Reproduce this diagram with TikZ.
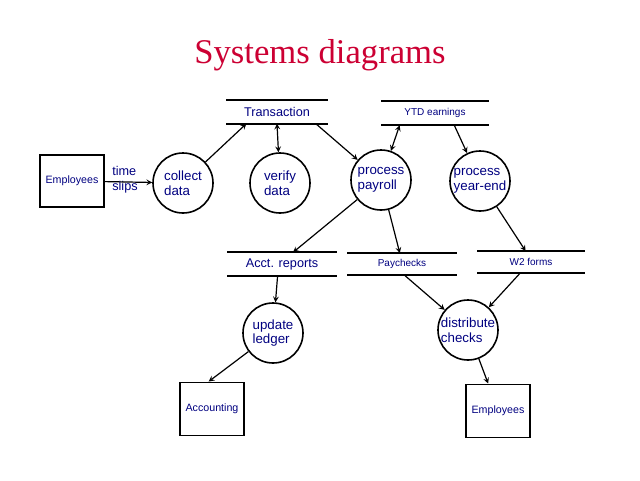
\documentclass[tikz,border=0pt]{standalone}
\usepackage{fontspec}
\setmainfont{Liberation Sans}
\newfontfamily\titlefont{Liberation Serif}
\usetikzlibrary{calc}
\definecolor{navy}{RGB}{0,0,128}
\definecolor{crim}{RGB}{204,0,51}
\begin{document}
\begin{tikzpicture}[x=0.75pt,y=-0.75pt,
  proc/.style={circle,draw,line width=1.2pt,minimum size=45pt,inner sep=0pt,align=left,text=navy,font=\fontsize{10}{11}\selectfont},
  ent/.style={rectangle,draw,line width=1.2pt,inner sep=0pt,text=navy,font=\fontsize{8}{9}\selectfont},
  store/.style={rectangle,inner sep=0pt,text=navy,font=\fontsize{9.5}{10}\selectfont},
  sl/.style={line width=1.4pt},
  ar/.style={line width=0.9pt,-stealth}]
\useasboundingbox (0,0) rectangle (640,480);
\node[text=crim,font=\titlefont\fontsize{26}{28}\selectfont] (title) at (320,55) {Systems diagrams};
\node[ent,minimum width=48pt,minimum height=39pt] (E1) at (72,181) {Employees};
\node[ent,minimum width=48pt,minimum height=40pt] (A) at (212,409) {Accounting};
\node[ent,minimum width=48pt,minimum height=40pt] (E2) at (498,411) {Employees};
\node[text=navy,font=\fontsize{9.5}{11}\selectfont,align=left] (ts) at (125,180) {time\\slips};
\node[proc] (C) at (183,183) {collect\\data};
\node[proc] (V) at (280,183) {verify\\data};
\node[proc] (P) at (381,180) {process\\payroll};
\node[proc] (Y) at (480,181) {process\\year-end};
\node[proc] (U) at (273,333) {update\\ledger};
\node[proc] (D) at (468,330) {distribute\\checks};
\node[store,minimum width=76pt,minimum height=17pt] (T) at (277,112) {Transaction};
\node[store,minimum width=80pt,minimum height=18pt,font=\fontsize{7.5}{8}\selectfont] (YTD) at (435,113) {YTD earnings};
\node[store,minimum width=82pt,minimum height=17pt] (AR) at (282,264) {Acct. reports};
\node[store,minimum width=82pt,minimum height=16pt,font=\fontsize{7.5}{8}\selectfont] (PC) at (402,264) {Paychecks};
\node[store,minimum width=80pt,minimum height=16pt,font=\fontsize{7.5}{8}\selectfont] (W2) at (531,262) {W2 forms};
\foreach \s in {T,YTD,AR,PC,W2}{
  \draw[sl] (\s.north west)--(\s.north east) (\s.south west)--(\s.south east);}
\draw[ar] (E1) -- (C);
\draw[ar] (C) -- ($(T.south west)!0.2!(T.south east)$);
\draw[line width=0.9pt,stealth-stealth] ($(T.south west)!0.5!(T.south east)$) -- (V);
\draw[ar] ($(T.south west)!0.88!(T.south east)$) -- (P);
\draw[line width=0.9pt,stealth-stealth] ($(YTD.south west)!0.17!(YTD.south east)$) -- (P);
\draw[ar] ($(YTD.south west)!0.68!(YTD.south east)$) -- (Y);
\draw[ar] (P) -- ($(AR.north west)!0.6!(AR.north east)$);
\draw[ar] (P) -- ($(PC.north west)!0.48!(PC.north east)$);
\draw[ar] (Y) -- ($(W2.north west)!0.45!(W2.north east)$);
\draw[ar] ($(AR.south west)!0.46!(AR.south east)$) -- (U);
\draw[ar] ($(PC.south west)!0.52!(PC.south east)$) -- (D);
\draw[ar] ($(W2.south west)!0.4!(W2.south east)$) -- (D);
\draw[ar] (U) -- ($(A.north west)!0.45!(A.north east)$);
\draw[ar] (D) -- ($(E2.north west)!0.35!(E2.north east)$);
\end{tikzpicture}
\end{document}
